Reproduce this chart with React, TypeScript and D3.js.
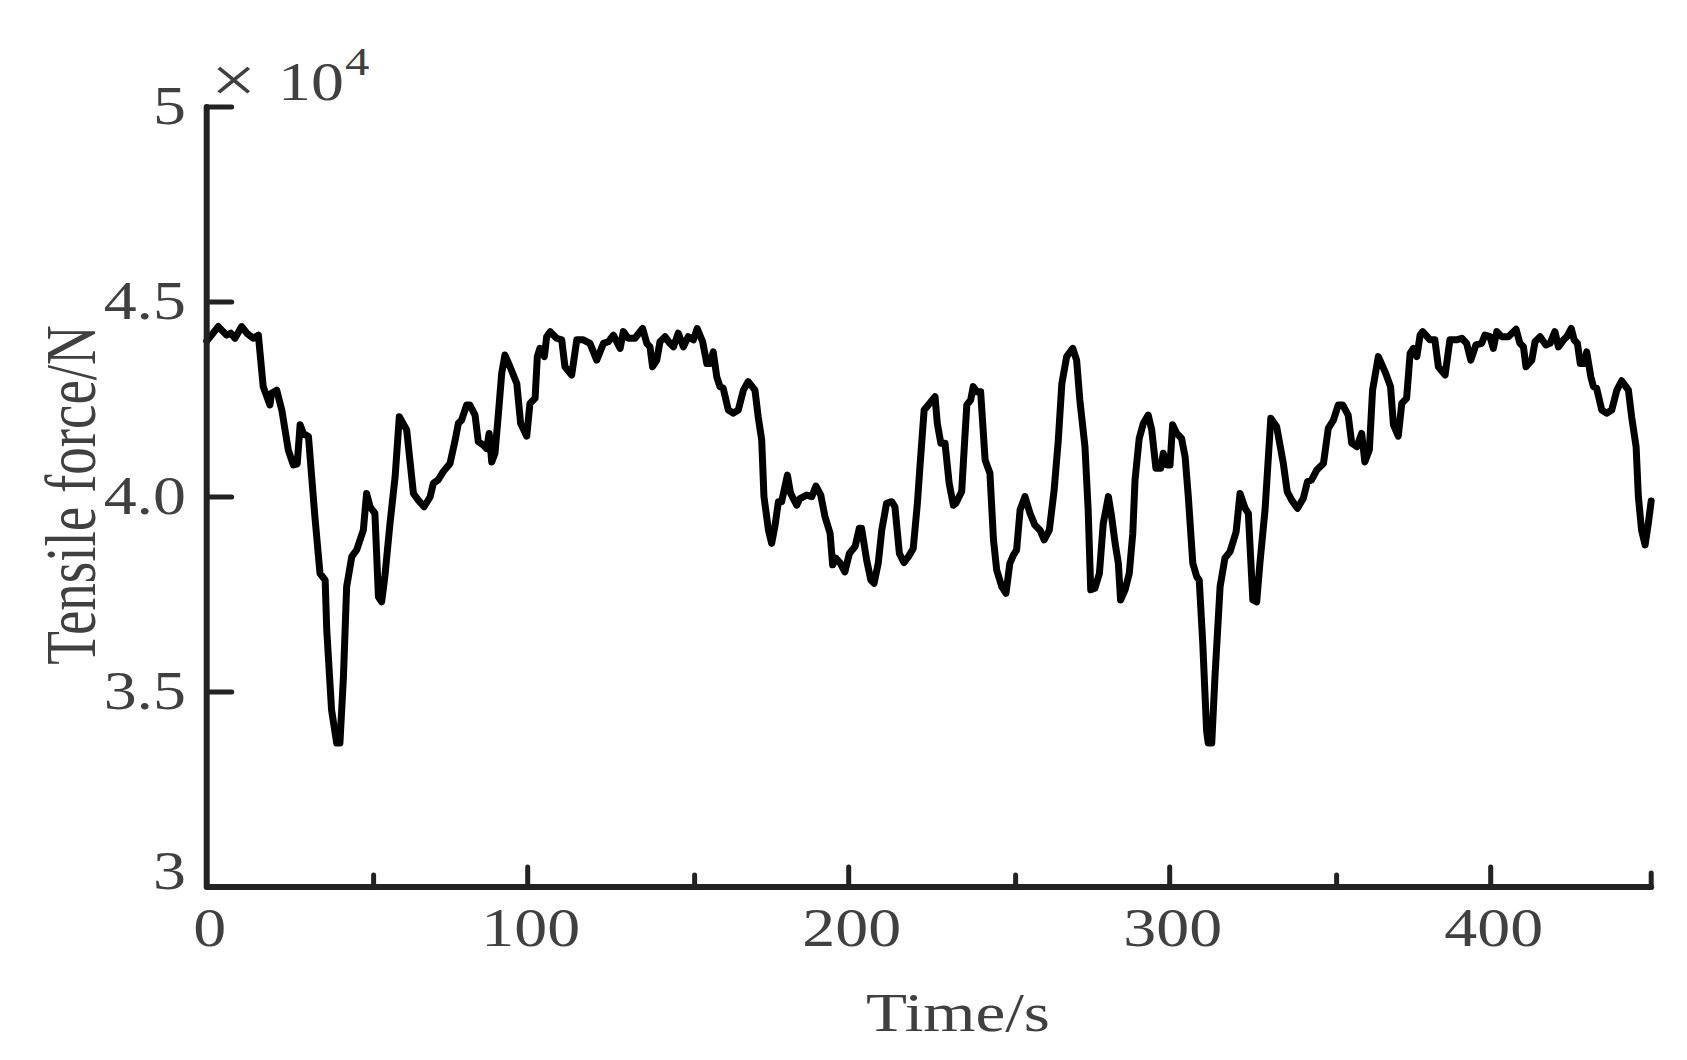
import React from "react";
import * as d3 from "d3";

// Time (s)
const TIME = [
  0, 1.5, 3.6, 6.2, 7.5, 8.8, 10.9, 12.5, 14.5, 16.1, 17.6, 19.7, 20.2, 21.8, 23.4, 25.4, 27.0, 28.2, 29.1, 30.1,
  31.7, 33.7, 35.3, 36.9, 37.4, 38.9, 40.5, 41.5, 42.6, 43.6, 45.2, 46.7, 48.8, 49.8, 50.9, 52.4, 53.5, 54.5, 55.5, 57.1,
  58.7, 60.0, 62.3, 64.4, 65.9, 67.7, 69.6, 70.6, 72.1, 73.7, 75.8, 77.4, 78.4, 79.4, 81.0, 82.0, 83.6, 84.6, 86.2, 87.2,
  88.0, 88.8, 89.8, 90.8, 91.9, 92.9, 94.5, 96.6, 97.8, 99.7, 100.7, 102.3, 103.0, 103.8, 105.2, 105.9, 107.0, 109.0, 110.6, 111.6,
  113.7, 115.3, 117.3, 119.4, 121.5, 123.6, 125.1, 126.7, 128.8, 129.8, 131.3, 133.4, 135.8, 137.1, 138.1, 138.9, 140.2, 141.2, 142.8, 144.3,
  145.4, 146.9, 148.5, 150.0, 151.6, 152.8, 154.5, 155.8, 156.8, 157.8, 158.9, 159.9, 160.9, 162.5, 164.1, 165.6, 167.2, 168.7, 170.8, 171.8,
  172.9, 173.6, 175.0, 176.0, 177.0, 178.1, 179.1, 180.9, 181.9, 183.8, 184.8, 186.9, 188.5, 189.8, 191.3, 192.6, 194.2, 195.0, 196.0, 197.3,
  198.8, 200.2, 202.0, 203.3, 204.0, 205.6, 206.9, 207.9, 209.2, 210.3, 211.8, 213.4, 214.4, 215.8, 217.2, 218.6, 220.1, 221.4, 222.2, 223.5,
  224.8, 226.9, 227.6, 228.7, 230.0, 231.3, 232.6, 233.4, 235.2, 236.2, 236.8, 238.0, 238.8, 239.9, 241.1, 242.5, 244.0, 245.1, 246.1, 247.7,
  249.0, 250.2, 251.3, 252.3, 253.4, 254.9, 256.5, 258.0, 259.6, 260.9, 262.5, 264.0, 265.3, 266.4, 267.9, 269.8, 271.0, 272.0, 273.6, 274.6,
  275.4, 276.7, 278.1, 279.3, 280.9, 281.9, 283.0, 284.0, 284.7, 286.1, 287.4, 288.5, 289.2, 290.5, 291.8, 293.3, 294.4, 295.7, 297.2, 298.0,
  299.1, 300.1, 300.9, 302.2, 303.7, 304.8, 305.8, 307.2, 308.4, 309.2, 310.3, 311.5, 312.0, 313.1, 314.1, 315.7, 317.2, 318.8, 320.7, 321.9,
  323.5, 324.5, 325.9, 327.1, 328.1, 329.7, 331.5, 333.3, 335.4, 336.6, 338.0, 339.8, 341.6, 342.9, 344.2, 345.8, 347.9, 349.4, 351.0, 352.5,
  353.9, 355.6, 356.7, 358.3, 359.8, 360.8, 362.2, 363.2, 365.0, 367.1, 368.8, 369.7, 371.2, 372.3, 373.8, 374.9, 375.9, 377.0, 378.0, 378.8,
  381.1, 382.6, 383.7, 385.8, 387.3, 389.4, 391.0, 392.5, 393.8, 395.4, 397.2, 398.2, 399.8, 400.8, 401.9, 403.4, 405.5, 407.9, 409.1, 410.2,
  411.0, 412.8, 413.8, 415.4, 417.2, 418.5, 420.0, 421.1, 422.7, 423.7, 425.1, 426.0, 427.0, 427.9, 429.1, 429.9, 431.2, 432.0, 433.0, 434.6,
  436.1, 437.7, 439.3, 440.8, 442.9, 443.9, 445.3, 446.0, 447.0, 448.1, 449.1, 450.0,
];

// Tensile force (x 10^4 N)
const FORCE = [
  4.400, 4.415, 4.437, 4.415, 4.420, 4.407, 4.437, 4.420, 4.407, 4.415, 4.283, 4.236, 4.266, 4.274, 4.223, 4.121, 4.082, 4.085, 4.185, 4.163,
  4.155, 3.950, 3.804, 3.787, 3.659, 3.454, 3.369, 3.369, 3.539, 3.770, 3.847, 3.864, 3.915, 4.009, 3.975, 3.958, 3.744, 3.731, 3.796, 3.932,
  4.052, 4.206, 4.172, 4.009, 3.992, 3.975, 4.000, 4.035, 4.044, 4.065, 4.086, 4.146, 4.189, 4.197, 4.236, 4.236, 4.210, 4.142, 4.133, 4.124,
  4.163, 4.090, 4.112, 4.206, 4.317, 4.364, 4.334, 4.291, 4.189, 4.156, 4.240, 4.253, 4.360, 4.381, 4.360, 4.411, 4.424, 4.407, 4.403, 4.334,
  4.313, 4.403, 4.403, 4.394, 4.351, 4.394, 4.398, 4.415, 4.381, 4.424, 4.407, 4.407, 4.432, 4.394, 4.385, 4.334, 4.351, 4.398, 4.411, 4.394,
  4.385, 4.420, 4.385, 4.411, 4.403, 4.432, 4.398, 4.342, 4.342, 4.372, 4.308, 4.283, 4.279, 4.223, 4.215, 4.223, 4.274, 4.296, 4.274, 4.206,
  4.146, 4.001, 3.915, 3.881, 3.924, 3.988, 3.988, 4.056, 4.009, 3.979, 3.996, 4.005, 4.001, 4.028, 4.005, 3.950, 3.907, 3.826, 3.843, 3.831,
  3.808, 3.855, 3.873, 3.920, 3.920, 3.838, 3.787, 3.779, 3.830, 3.915, 3.984, 3.988, 3.975, 3.855, 3.832, 3.847, 3.868, 3.984, 4.078, 4.223,
  4.236, 4.257, 4.189, 4.138, 4.138, 4.035, 3.979, 3.984, 4.014, 4.155, 4.236, 4.249, 4.283, 4.270, 4.270, 4.095, 4.061, 3.890, 3.813, 3.770,
  3.753, 3.830, 3.851, 3.864, 3.967, 4.001, 3.958, 3.928, 3.915, 3.890, 3.915, 4.018, 4.146, 4.291, 4.360, 4.381, 4.351, 4.249, 4.129, 3.967,
  3.762, 3.766, 3.804, 3.932, 4.001, 3.950, 3.881, 3.830, 3.736, 3.762, 3.804, 3.907, 4.044, 4.150, 4.189, 4.210, 4.172, 4.074, 4.074, 4.112,
  4.082, 4.082, 4.185, 4.163, 4.150, 4.103, 4.001, 3.830, 3.796, 3.787, 3.625, 3.400, 3.369, 3.369, 3.539, 3.770, 3.843, 3.860, 3.911, 4.009,
  3.971, 3.958, 3.736, 3.731, 3.830, 3.967, 4.202, 4.181, 4.086, 4.014, 3.992, 3.971, 3.996, 4.039, 4.044, 4.069, 4.086, 4.176, 4.197, 4.236,
  4.236, 4.210, 4.138, 4.129, 4.163, 4.090, 4.121, 4.274, 4.360, 4.321, 4.283, 4.185, 4.156, 4.240, 4.253, 4.368, 4.381, 4.360, 4.415, 4.424,
  4.403, 4.403, 4.334, 4.313, 4.403, 4.403, 4.407, 4.394, 4.351, 4.390, 4.394, 4.415, 4.411, 4.381, 4.424, 4.411, 4.411, 4.430, 4.394, 4.385,
  4.334, 4.351, 4.398, 4.411, 4.390, 4.394, 4.424, 4.385, 4.403, 4.411, 4.432, 4.403, 4.394, 4.342, 4.342, 4.372, 4.308, 4.283, 4.279, 4.223,
  4.215, 4.223, 4.274, 4.298, 4.274, 4.206, 4.129, 4.001, 3.915, 3.877, 3.932, 3.990,
];

const X_MAJOR_TICKS = [0, 100, 200, 300, 400];
const X_MINOR_TICKS = [52, 152, 252, 352];
const X_END = 450;
const Y_TICKS = [3, 3.5, 4.0, 4.5, 5];
const Y_TICK_LABELS = ["3", "3.5", "4.0", "4.5", "5"];
const X_TITLE = "Time/s";
const Y_TITLE = "Tensile force/N";
const EXPONENT = "4";

const W = 1687;
const H = 1060;
const FONT = "'Liberation Serif', 'Times New Roman', serif";
const TXT = "#404040";
const AX = "#222222";
const SX = 1.22;

export default function App() {
  const x = d3.scaleLinear().domain([0, 450]).range([206.7, 1651.2]);
  const y = d3.scaleLinear().domain([3, 5]).range([887, 107]);

  const pts: [number, number][] = TIME.map((t, i) => [t, FORCE[i]]);
  const line = d3
    .line<[number, number]>()
    .x((d) => x(d[0]))
    .y((d) => y(d[1]));

  const x0 = x(0);
  const y0 = y(3);

  return (
    <svg
      width={W}
      height={H}
      viewBox={`0 0 ${W} ${H}`}
      style={{ position: "absolute", left: 0, top: 0, background: "#fff" }}
    >
      <rect x={0} y={0} width={W} height={H} fill="#fff" />

      {/* data line */}
      <path
        d={line(pts) || ""}
        fill="none"
        stroke="#000"
        strokeWidth={7}
        strokeLinejoin="round"
        strokeLinecap="round"
      />

      {/* axes */}
      <g stroke={AX} strokeLinecap="round" fill="none">
        <path d={`M${x0},${y(5)} V${y0} H${x(X_END)}`} strokeWidth={6} strokeLinejoin="round" />
        {Y_TICKS.filter((v) => v > 3).map((v) => (
          <line key={"yt" + v} x1={x0} x2={x0 + 25} y1={y(v)} y2={y(v)} strokeWidth={5} />
        ))}
        {X_MAJOR_TICKS.filter((t) => t > 0).map((t) => (
          <line key={"xt" + t} x1={x(t)} x2={x(t)} y1={y0} y2={y0 - 20} strokeWidth={5} />
        ))}
        {X_MINOR_TICKS.map((t) => (
          <line key={"xm" + t} x1={x(t)} x2={x(t)} y1={y0} y2={y0 - 12} strokeWidth={5} />
        ))}
        <line x1={x(X_END)} x2={x(X_END)} y1={y0} y2={y0 - 14} strokeWidth={5} />
      </g>

      {/* y tick labels */}
      {Y_TICKS.map((v, i) => {
        const by = Math.min(y(v) + 17, y0 + 2);
        return (
          <g key={"yl" + v} transform={`translate(186,${by}) scale(${SX},1)`}>
            <text x={0} y={0} textAnchor="end" fontFamily={FONT} fontSize={54} fill={TXT}>
              {Y_TICK_LABELS[i]}
            </text>
          </g>
        );
      })}

      {/* x tick labels */}
      {X_MAJOR_TICKS.map((t) => (
        <g key={"xl" + t} transform={`translate(${x(t) + 3},946) scale(${SX},1)`}>
          <text x={0} y={0} textAnchor="middle" fontFamily={FONT} fontSize={54} fill={TXT}>
            {String(t)}
          </text>
        </g>
      ))}

      {/* exponent */}
      <g transform={`translate(211,102) scale(${SX},1)`}>
        <text x={0} y={0} fontFamily={FONT} fontSize={66} fill={TXT}>
          ×
        </text>
      </g>
      <g transform={`translate(278,100) scale(${SX},1)`}>
        <text x={0} y={0} fontFamily={FONT} fontSize={54} fill={TXT}>
          10
        </text>
      </g>
      <g transform={`translate(345,75) scale(${SX},1)`}>
        <text x={0} y={0} fontFamily={FONT} fontSize={40} fill={TXT}>
          {EXPONENT}
        </text>
      </g>

      {/* axis titles */}
      <g transform={`translate(958,1031) scale(${SX},1)`}>
        <text x={0} y={0} textAnchor="middle" fontFamily={FONT} fontSize={55} fill={TXT}>
          {X_TITLE}
        </text>
      </g>
      <g transform={`translate(95,495) scale(1.3,1) rotate(-90)`}>
        <text x={0} y={0} textAnchor="middle" fontFamily={FONT} fontSize={55} fill={TXT}>
          {Y_TITLE}
        </text>
      </g>
    </svg>
  );
}
